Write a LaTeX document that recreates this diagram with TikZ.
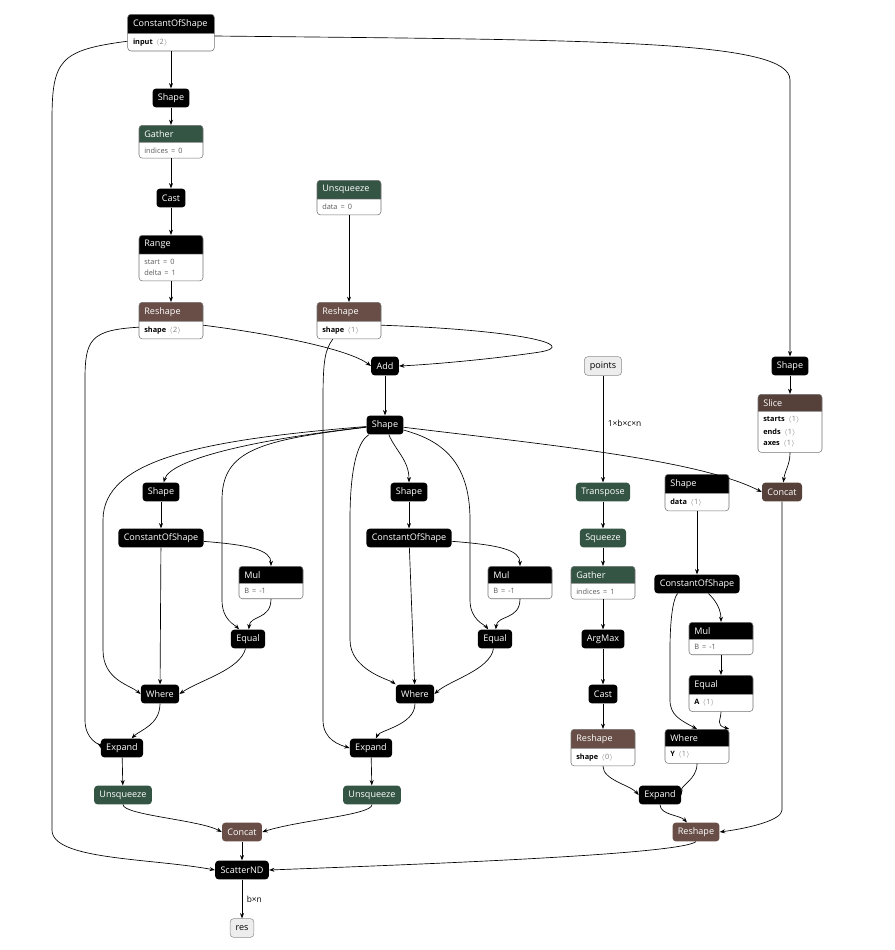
\documentclass[tikz,border=0pt]{standalone}
\usepackage{fontspec}
\setmainfont{Open Sans}
\usetikzlibrary{shapes.multipart,arrows.meta}
\definecolor{gr}{RGB}{52,84,68}
\definecolor{br}{RGB}{104,78,70}
\definecolor{dbr}{RGB}{86,64,58}
\definecolor{bt}{RGB}{90,90,90}
\begin{document}
\begin{tikzpicture}[x=0.75pt,y=-0.75pt,
 op/.style={fill=#1,text=white,rounded corners=2.5pt,inner xsep=4pt,inner ysep=0pt,minimum height=14pt,font=\fontsize{6.8}{7}\selectfont},
 op/.default=black,
 io/.style={fill=black!7,draw=black!45,rounded corners=2.5pt,inner xsep=4pt,minimum height=14pt,font=\fontsize{6.8}{7}\selectfont},
 bx/.style 2 args={rectangle split,rectangle split parts=2,rectangle split part fill={#1,white},draw=black!55,rounded corners=2.5pt,
   text width=#2,align=left,anchor=north,inner xsep=4pt,inner ysep=3.6pt,font=\fontsize{6.8}{8.5}\selectfont},
 e/.style={-{Stealth[length=4pt,width=3pt]},line width=0.5pt},
 lb/.style={font=\fontsize{6.3}{7}\selectfont}]
\useasboundingbox (0,0) rectangle (895,950);
\newcommand\hd[1]{\textcolor{white}{#1}\nodepart{two}}
\newcommand\bd[1]{{\fontsize{5.5}{9.5}\selectfont\color{bt}#1}}
\newcommand\at[2]{\textbf{\color{black}#1}\ \textcolor{gray}{$\langle$#2$\rangle$}}
% top chain
\node[bx={black}{57pt}] (cos0) at (171,14) {\hd{ConstantOfShape}\bd{\at{input}{2}}};
\node[op] (sh0) at (171,98) {Shape};
\node[bx={gr}{40pt}] (ga0) at (171,125) {\hd{Gather}\bd{indices = 0}};
\node[op] (ca0) at (171,198) {Cast};
\node[bx={black}{40pt}] (ra0) at (171,235) {\hd{Range}\bd{start = 0\\delta = 1}};
\node[bx={br}{40pt}] (re1) at (171,302) {\hd{Reshape}\bd{\at{shape}{2}}};
\node[bx={gr}{40pt}] (un0) at (349,180) {\hd{Unsqueeze}\bd{data = 0}};
\node[bx={br}{40pt}] (re2) at (349,302) {\hd{Reshape}\bd{\at{shape}{1}}};
\node[op] (add) at (385,366) {Add};
\node[op] (shc) at (385,425) {Shape};
% left group
\node[op] (shL) at (161,492) {Shape};
\node[op] (cosL) at (161,538) {ConstantOfShape};
\node[bx={black}{40pt}] (muL) at (271,566) {\hd{Mul}\bd{B = -1}};
\node[op] (eqL) at (248,639) {Equal};
\node[op] (whL) at (160,694) {Where};
\node[op] (exL) at (122,748) {Expand};
\node[op=gr] (unL) at (123,795) {Unsqueeze};
% middle group
\node[op] (shM) at (409,492) {Shape};
\node[op] (cosM) at (409,538) {ConstantOfShape};
\node[bx={black}{40pt}] (muM) at (520,566) {\hd{Mul}\bd{B = -1}};
\node[op] (eqM) at (495,639) {Equal};
\node[op] (whM) at (415,694) {Where};
\node[op] (exM) at (371,748) {Expand};
\node[op=gr] (unM) at (372,795) {Unsqueeze};
% bottom
\node[op=br] (cc0) at (242,832) {Concat};
\node[op] (sc) at (242,870) {ScatterND};
\node[io] (res) at (242,928) {res};
% points chain
\node[io] (pts) at (603,366) {points};
\node[op=gr] (tr) at (603,492) {Transpose};
\node[op=gr] (sq) at (603,538) {Squeeze};
\node[bx={gr}{40pt}] (ga1) at (603,566) {\hd{Gather}\bd{indices = 1}};
\node[op] (am) at (603,639) {ArgMax};
\node[op] (ca1) at (603,694) {Cast};
\node[bx={br}{40pt}] (re3) at (603,729) {\hd{Reshape}\bd{\at{shape}{0}}};
% right group
\node[bx={black}{40pt}] (shD) at (697,474) {\hd{Shape}\bd{\at{data}{1}}};
\node[op] (cosR) at (697,584) {ConstantOfShape};
\node[bx={black}{40pt}] (muR) at (721,622) {\hd{Mul}\bd{B = -1}};
\node[bx={black}{40pt}] (eqR) at (721,675) {\hd{Equal}\bd{\at{A}{1}}};
\node[bx={black}{40pt}] (whR) at (697,729) {\hd{Where}\bd{\at{Y}{1}}};
\node[op] (exR) at (660,795) {Expand};
\node[op=br] (re4) at (696,832) {Reshape};
\node[op] (shR) at (790,366) {Shape};
\node[bx={dbr}{40pt}] (sl) at (790,394) {\hd{Slice}\bd{\at{starts}{1}\\\at{ends}{1}\\\at{axes}{1}}};
\node[op=dbr] (ccR) at (782,492) {Concat};
% edges
\draw[e] (cos0.south) -- (sh0);
\draw[e] (cos0.south west) ++(0,-10) .. controls (60,50) and (52,60) .. (52,120) -- (52,830) .. controls (52,860) and (150,858) .. (sc.west);
\draw[e] (cos0.north east) ++(0,22) .. controls (600,40) and (790,40) .. (790,80) -- (shR);
\draw[e] (sh0) -- (ga0);
\draw[e] (ga0.south) -- (ca0);
\draw[e] (ca0) -- (ra0);
\draw[e] (ra0.south) -- (re1);
\draw[e] (un0.south) -- (re2);
\draw[e] (re1.south east) ++(0,-14) .. controls (280,335) and (350,350) .. (add.west);
\draw[e] (re1.south west) ++(0,-12) .. controls (90,330) and (85,340) .. (85,380) -- (85,720) .. controls (85,740) and (100,745) .. (exL.west);
\draw[e] (re2.south east) ++(0,-14) .. controls (520,330) and (580,345) .. (540,352) .. controls (500,358) and (440,364) .. (add.east);
\draw[e] (re2.south west) ++(16,0) .. controls (325,350) and (323,360) .. (323,400) -- (323,720) .. controls (323,740) and (340,745) .. (exM.west);
\draw[e] (add) -- (shc);
\draw[e] (shc) .. controls (250,440) and (170,460) .. (shL);
\draw[e] (shc) .. controls (260,440) and (222,450) .. (222,500) -- (222,600) .. controls (222,620) and (235,625) .. (eqL);
\draw[e] (shc) .. controls (200,440) and (103,460) .. (103,520) -- (103,650) .. controls (103,680) and (130,685) .. (whL.west);
\draw[e] (shc) .. controls (395,450) and (409,460) .. (shM);
\draw[e] (shc) .. controls (360,440) and (350,460) .. (350,520) -- (350,640) .. controls (350,670) and (390,680) .. (whM.north west);
\draw[e] (shc) .. controls (440,440) and (470,460) .. (470,520) -- (470,600) .. controls (470,620) and (485,625) .. (eqM);
\draw[e] (shc) .. controls (550,445) and (700,460) .. (ccR.west);
\draw[e] (shL) -- (cosL);
\draw[e] (cosL) .. controls (250,545) and (271,550) .. (muL.north);
\draw[e] (cosL) -- (whL);
\draw[e] (muL.south) .. controls (271,620) and (250,615) .. (eqL);
\draw[e] (eqL) .. controls (240,670) and (200,680) .. (whL.east);
\draw[e] (whL) .. controls (160,725) and (140,730) .. (exL);
\draw[e] (exL) -- (unL);
\draw[e] (unL) .. controls (123,815) and (200,820) .. (cc0.west);
\draw[e] (shM) -- (cosM);
\draw[e] (cosM) .. controls (500,545) and (520,550) .. (muM.north);
\draw[e] (cosM) -- (whM);
\draw[e] (muM.south) .. controls (520,620) and (497,615) .. (eqM);
\draw[e] (eqM) .. controls (490,670) and (450,680) .. (whM.east);
\draw[e] (whM) .. controls (415,725) and (380,730) .. (exM);
\draw[e] (exM) -- (unM);
\draw[e] (unM) .. controls (372,815) and (300,820) .. (cc0.east);
\draw[e] (cc0) -- (sc);
\draw[e] (sc) -- node[right,lb]{b×n} (res);
\draw[e] (pts) -- node[right,lb,pos=0.45]{1×b×c×n} (tr);
\draw[e] (tr) -- (sq);
\draw[e] (sq) -- (ga1);
\draw[e] (ga1.south) -- (am);
\draw[e] (am) -- (ca1);
\draw[e] (ca1) -- (re3);
\draw[e] (re3.south) .. controls (603,780) and (630,785) .. (exR.west);
\draw[e] (whR.south) .. controls (697,780) and (680,785) .. (exR.east);
\draw[e] (exR) .. controls (660,815) and (680,815) .. (re4);
\draw[e] (ccR) -- (782,810) .. controls (782,820) and (750,828) .. (re4.east);
\draw[e] (re4.south) .. controls (680,855) and (400,865) .. (sc.east);
\draw[e] (shD.south) -- (cosR);
\draw[e] (cosR) .. controls (710,595) and (721,605) .. (muR.north);
\draw[e] (cosR) .. controls (675,595) and (670,610) .. (670,650) -- (670,700) .. controls (670,715) and (680,720) .. (whR.north);
\draw[e] (muR.south) -- (eqR);
\draw[e] (eqR.south) .. controls (721,720) and (715,725) .. (whR.north east);
\draw[e] (shR) -- (sl);
\draw[e] (sl.south) .. controls (790,465) and (785,470) .. (ccR);
\end{tikzpicture}
\end{document}
